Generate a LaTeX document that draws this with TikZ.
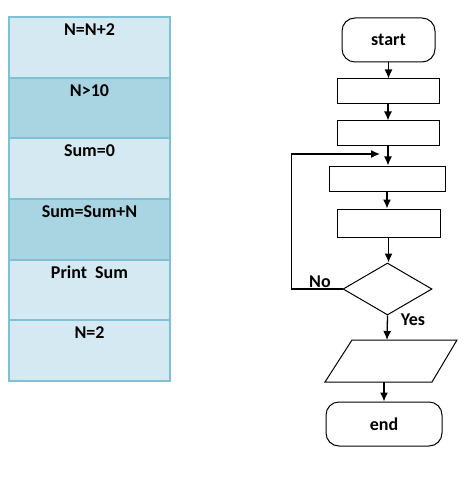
\documentclass[tikz,border=0pt]{standalone}
\usepackage{fontspec}
\setmainfont{Carlito}
\usetikzlibrary{shapes.geometric,arrows.meta}
\definecolor{celllight}{HTML}{D5E9F2}
\definecolor{celldark}{HTML}{A9D5E3}
\definecolor{cellline}{HTML}{7FC0D4}

\begin{document}
\begin{tikzpicture}[x=1pt,y=-1pt,font=\fontsize{18}{21}\selectfont\bfseries,
  line width=1.3pt,>={Latex[length=9pt,width=8pt]},
  cell/.style={draw=cellline,line width=2pt,minimum width=161pt,minimum height=60.67pt,inner sep=0pt},
  proc/.style={draw,line width=1pt,inner sep=0pt,minimum height=25pt},
  term/.style={draw,line width=1pt,rounded corners=13pt,inner sep=0pt,minimum height=44pt}]
  \useasboundingbox (0,0) rectangle (474,481);

  % table on the left
  \foreach \i/\fillc/\txt in {0/celllight/N=N+2,1/celldark/N>10,2/celllight/Sum=0,
      3/celldark/Sum=Sum+N,4/celllight/Print\ \ Sum,5/celllight/N=2} {
    \node[cell,fill=\fillc] (cell\i) at (89.5,{47.33+60.67*\i}) {};
    \node[anchor=north,inner sep=0pt] (txt\i) at ([yshift=-7pt]cell\i.north) {\txt};
  }

  % flowchart
  \node[term,minimum width=93pt] (start) at (388.5,40) {start};
  \node[proc,minimum width=102pt] (box1) at (388,91.5) {};
  \node[proc,minimum width=102pt] (box2) at (388,133.5) {};
  \node[proc,minimum width=116pt] (box3) at (387,178.5) {};
  \node[proc,minimum width=103pt,minimum height=28pt] (box4) at (388.5,223) {};
  \node[draw,diamond,line width=1pt,inner sep=0pt,minimum width=89pt,minimum height=52pt]
    (test) at (387.5,289) {};
  \draw[line width=1pt] (325,382) -- (352,340) -- (457,340) -- (432,382) -- cycle;
  \coordinate (outtop) at (387,340);
  \coordinate (outbot) at (384,382);
  \node[term,minimum width=116pt] (stop) at (384,424) {end};

  \draw[->] (start.south) -- (start.south |- box1.north);
  \draw[->] (box1.south) -- (box1.south |- box2.north);
  \draw[->] (box2.south) -- (box2.south |- box3.north);
  \draw[->] (box3.south) -- (box3.south |- box4.north);
  \draw[->] (box4.south) -- (box4.south |- test.north);
  \draw[->] (test.south) -- (outtop);
  \draw[->] (outbot) -- (outbot |- stop.north);

  \coordinate (loopin) at (380,154);
  \draw[->] (test.west) -- ++(-51,0) |- (loopin);
  \node (no) at (320,282) {No};
  \node (yes) at (413,320) {Yes};
\end{tikzpicture}
\end{document}
